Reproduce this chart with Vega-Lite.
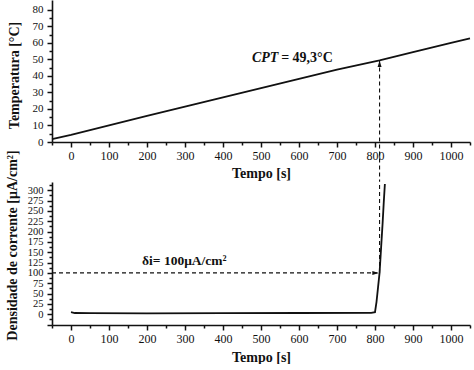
{
  "$schema": "https://vega.github.io/schema/vega-lite/v6.json",
  "padding": {"left": 4, "top": 0, "right": 0, "bottom": 0},
  "background": "white",
  "config": {
    "view": {"stroke": null},
    "axis": {
      "grid": false,
      "domainColor": "#111",
      "domainWidth": 1.6,
      "tickColor": "#111",
      "tickWidth": 1.5,
      "labelFont": "Liberation Serif",
      "labelFontSize": 12,
      "labelColor": "#111",
      "titleFont": "Liberation Serif",
      "titleFontSize": 14,
      "titleFontWeight": "bold",
      "titleColor": "#111",
      "labelOverlap": false,
      "format": "d"
    }
  },
  "datasets": {
    "temp": [
      {"t": -50, "T": 1.8}, {"t": 0, "T": 4.3}, {"t": 100, "T": 10.0}, {"t": 200, "T": 15.8},
      {"t": 300, "T": 21.4}, {"t": 400, "T": 27.0}, {"t": 500, "T": 32.6}, {"t": 600, "T": 38.2},
      {"t": 700, "T": 43.8}, {"t": 812, "T": 49.4}, {"t": 900, "T": 54.4}, {"t": 1000, "T": 60.0},
      {"t": 1050, "T": 62.8}
    ],
    "curr": [
      {"t": 0, "i": 5}, {"t": 10, "i": 3}, {"t": 50, "i": 2.5}, {"t": 200, "i": 2}, {"t": 400, "i": 2.5},
      {"t": 600, "i": 3}, {"t": 790, "i": 3.5}, {"t": 800, "i": 5}, {"t": 804, "i": 30}, {"t": 808, "i": 65},
      {"t": 812, "i": 100}, {"t": 816, "i": 160}, {"t": 820, "i": 220}, {"t": 823, "i": 270}, {"t": 826, "i": 315}
    ]
  },
  "vconcat": [
    {
      "width": 418,
      "height": 142,
      "encoding": {
        "x": {
          "field": "t", "type": "quantitative",
          "scale": {"domain": [-50, 1050], "nice": false, "zero": false},
          "axis": {
            "title": "Tempo [s]",
            "values": [-50, 0, 50, 100, 150, 200, 250, 300, 350, 400, 450, 500, 550, 600, 650, 700, 750, 800, 850, 900, 950, 1000, 1050],
            "labelExpr": "datum.value % 100 === 0 && datum.value >= 0 && datum.value <= 1000 ? datum.label : ''",
            "tickSize": {"condition": {"test": "datum.value % 100 === 0", "value": 5}, "value": 3},
            "labelPadding": 3,
            "titlePadding": 5
          }
        },
        "y": {
          "field": "T", "type": "quantitative",
          "scale": {"domain": [0, 86], "nice": false, "zero": false},
          "axis": {
            "title": "Temperatura [°C]",
            "values": [0, 5, 10, 15, 20, 25, 30, 35, 40, 45, 50, 55, 60, 65, 70, 75, 80],
            "labelExpr": "datum.value % 10 === 0 ? datum.label : ''",
            "tickSize": {"condition": {"test": "datum.value % 10 === 0", "value": 5}, "value": 3},
            "labelFontSize": 11,
            "labelPadding": 4,
            "titleX": -31,
            "titleY": 75
          }
        }
      },
      "layer": [
        {"data": {"name": "temp"}, "mark": {"type": "line", "color": "#111", "strokeWidth": 1.8}},
        {
          "data": {"values": [{"t": 812, "T": 49.3, "T2": -24}]},
          "mark": {"type": "rule", "color": "#111", "strokeWidth": 1.1, "strokeDash": [4, 3], "clip": false},
          "encoding": {"y2": {"field": "T2"}}
        },
        {
          "data": {"values": [{"t": 812, "T": 49.3}]},
          "mark": {"type": "point", "shape": "M0,0L-0.4,1.3L0.4,1.3Z", "filled": true, "color": "#111", "size": 100, "opacity": 1}
        },
        {
          "data": {"values": [{"t": 476, "T": 51, "label": "CPT"}]},
          "mark": {"type": "text", "align": "left", "baseline": "middle", "font": "Liberation Serif", "fontSize": 14, "fontWeight": "bold", "fontStyle": "italic", "color": "#111"},
          "encoding": {"text": {"field": "label"}}
        },
        {
          "data": {"values": [{"t": 553, "T": 51, "label": "= 49,3°C"}]},
          "mark": {"type": "text", "align": "left", "baseline": "middle", "font": "Liberation Serif", "fontSize": 14, "fontWeight": "bold", "color": "#111"},
          "encoding": {"text": {"field": "label"}}
        }
      ]
    },
    {
      "width": 418,
      "height": 143,
      "encoding": {
        "x": {
          "field": "t", "type": "quantitative",
          "scale": {"domain": [-50, 1050], "nice": false, "zero": false},
          "axis": {
            "title": "Tempo [s]",
            "values": [-50, 0, 50, 100, 150, 200, 250, 300, 350, 400, 450, 500, 550, 600, 650, 700, 750, 800, 850, 900, 950, 1000, 1050],
            "labelExpr": "datum.value % 100 === 0 && datum.value >= 0 && datum.value <= 1000 ? datum.label : ''",
            "tickSize": {"condition": {"test": "datum.value % 100 === 0", "value": 5}, "value": 3},
            "labelPadding": 3,
            "titlePadding": 6
          }
        },
        "y": {
          "field": "i", "type": "quantitative",
          "scale": {"domain": [-26, 320], "nice": false, "zero": false},
          "axis": {
            "title": "Densidade de corrente [μA/cm²]",
            "values": [-25, -12.5, 0, 12.5, 25, 37.5, 50, 62.5, 75, 87.5, 100, 112.5, 125, 137.5, 150, 162.5, 175, 187.5, 200, 212.5, 225, 237.5, 250, 262.5, 275, 287.5, 300, 312.5],
            "labelExpr": "datum.value % 25 === 0 && datum.value >= 0 && datum.value <= 300 ? datum.label : ''",
            "tickSize": {"condition": {"test": "datum.value % 25 === 0", "value": 5}, "value": 3},
            "labelFontSize": 10.5,
            "labelPadding": 4,
            "titleX": -33,
            "titleY": 63
          }
        }
      },
      "layer": [
        {"data": {"name": "curr"}, "mark": {"type": "line", "color": "#111", "strokeWidth": 1.8}},
        {
          "data": {"values": [{"t": -50, "t2": 806, "i": 100}]},
          "mark": {"type": "rule", "color": "#111", "strokeWidth": 1.1, "strokeDash": [4, 3]},
          "encoding": {"x2": {"field": "t2"}}
        },
        {
          "data": {"values": [{"t": 812, "i": 100, "i2": 320}]},
          "mark": {"type": "rule", "color": "#111", "strokeWidth": 1.1, "strokeDash": [4, 3], "clip": false},
          "encoding": {"y2": {"field": "i2"}}
        },
        {
          "data": {"values": [{"t": 810, "i": 100}]},
          "mark": {"type": "point", "shape": "M0,0L-1.3,-0.4L-1.3,0.4Z", "filled": true, "color": "#111", "size": 100, "opacity": 1}
        },
        {
          "data": {"values": [{"t": 187, "i": 129, "label": "δi= 100μA/cm²"}]},
          "mark": {"type": "text", "align": "left", "baseline": "middle", "font": "Liberation Serif", "fontSize": 13.5, "fontWeight": "bold", "color": "#111"},
          "encoding": {"text": {"field": "label"}}
        }
      ]
    }
  ],
  "spacing": 40,
  "bounds": "flush"
}
